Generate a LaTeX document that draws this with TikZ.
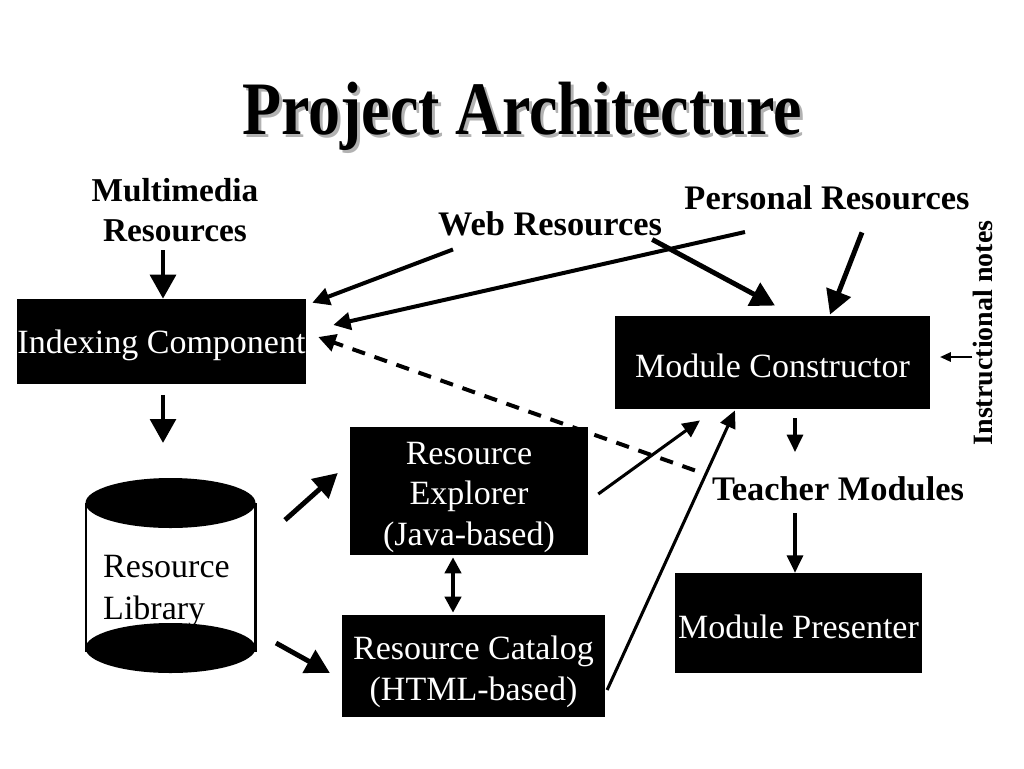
\documentclass[tikz,border=0pt]{standalone}
\usepackage{fontspec}
\setmainfont{Liberation Serif}
\usepackage{tikz}
\usetikzlibrary{positioning, arrows.meta}
\newcommand{\boxstrut}[1]{\rule{0pt}{#1}}
\tikzstyle{box} = [fill=black, text=white, inner sep=0pt, align=center, font=\fontsize{25.5}{30.5}\selectfont]
\tikzstyle{txt} = [inner sep=0pt, font=\fontsize{25.5}{31}\selectfont]
\tikzstyle{lbl} = [inner sep=0pt, align=center, font=\bfseries\fontsize{25.8}{30.5}\selectfont]
\tikzstyle{bigarrow} = [line width=3.7pt, -{Triangle[length=18pt,width=19pt]}]
\tikzstyle{midarrow} = [line width=3pt, -{Triangle[length=13pt,width=13pt]}]
\tikzstyle{thinarrow} = [line width=2.3pt, -{Triangle[length=13pt,width=12pt]}]

\begin{document}
\begin{tikzpicture}[x=0.75pt, y=-0.75pt]
  \useasboundingbox (0,0) rectangle (1024,768);

  % Title with shadow
  \node[font=\bfseries\fontsize{48}{50}\selectfont, text=black!30] (titleshadow) at (525,119) {\scalebox{1}[1.18]{Project Architecture}};
  \node[font=\bfseries\fontsize{48}{50}\selectfont] (title) at (522,116) {\scalebox{1}[1.18]{Project Architecture}};

  % Sources
  \node[lbl, font=\bfseries\fontsize{25}{30.5}\selectfont] (mm) at (175,210) {Multimedia\\Resources};
  \node[lbl] (web) at (550,224) {Web Resources};
  \node[lbl] (pers) at (827,198) {Personal Resources};
  \node[lbl, rotate=90, font=\bfseries\fontsize{21}{24}\selectfont] (notes) at (983,333) {Instructional notes};

  % Components
  \node[box, minimum width=216.75pt, minimum height=63.75pt] (idx) at (161.5,341.5) {\boxstrut{23pt}Indexing Component};
  \node[box, minimum width=236pt, minimum height=70pt] (mc) at (772.5,362.5) {\boxstrut{23pt}Module Constructor};
  \node[box, minimum width=178.5pt, minimum height=96pt] (rexp) at (469,491) {\boxstrut{26pt}Resource\\Explorer\\(Java-based)};
  \node[box, minimum width=197pt, minimum height=76.5pt] (rcat) at (473.5,666) {\boxstrut{26.5pt}Resource Catalog\\(HTML-based)};
  \node[box, minimum width=185pt, minimum height=75pt] (mp) at (798.5,623) {\boxstrut{23pt}Module Presenter};
  \node[lbl] (teach) at (838,489) {Teacher Modules};

  % Resource library cylinder
  \fill (170.5,503) ellipse [x radius=63.75pt, y radius=18.75pt];
  \fill (170.5,648) ellipse [x radius=63.75pt, y radius=18.75pt];
  \draw[line width=2pt] (86,503) -- (86,652);
  \draw[line width=2pt] (255.5,503) -- (255.5,652);
  \node[txt, align=left] (lib) at (166.5,591) {Resource\\Library};

  % Indexing side
  \coordinate (mmfoot) at (163,250);
  \draw[bigarrow] (mmfoot) -- (mmfoot |- idx.north);
  \coordinate (cyltop) at (163,443);
  \draw[bigarrow, shorten <=8pt] (cyltop |- idx.south) -- (cyltop);
  \draw[midarrow] ([shift={(-97,13)}]web.south) -- ([shift={(6,4)}]idx.north east);
  \draw[midarrow] ([shift={(-82,34)}]pers.center) -- ([shift={(27,-16.5)}]idx.east);
  \draw[midarrow, dash pattern=on 10pt off 7.5pt] ([shift={(80,61)}]mc.south west) -- ([shift={(12,-4.5)}]idx.east);

  % Library to explorer and catalog
  \draw[bigarrow] ([shift={(55,-71)}]lib.east) -- ([shift={(-12,-18)}]rexp.west);
  \draw[bigarrow] ([shift={(46,52)}]lib.east) -- ([shift={(-12,7)}]rcat.west);
  \draw[line width=3pt, {Triangle[length=12pt,width=12pt]}-{Triangle[length=12pt,width=12pt]}] ([shift={(-16,2)}]rexp.south) -- ([shift={(-20.5,-2)}]rcat.north);

  % Into the module constructor
  \draw[bigarrow] ([shift={(-10,3)}]web.south east) -- ([shift={(2.5,-10)}]mc.north);
  \draw[bigarrow] ([shift={(35,22)}]pers.south) -- ([shift={(57.5,-1)}]mc.north);
  \draw[thinarrow] ([shift={(10,3)}]rexp.east) -- ([shift={(-72.5,11)}]mc.south);
  \draw[thinarrow] ([shift={(2,24)}]rcat.east) -- ([shift={(-37.5,1)}]mc.south);
  \draw[line width=1.2pt, -{Triangle[length=8pt,width=7pt]}] ([shift={(-11,24)}]notes.center) -- ([shift={(10,-5.5)}]mc.east);

  % Output side
  \draw[thinarrow] ([shift={(22.5,9)}]mc.south) -- ([shift={(-43,-37)}]teach.center);
  \draw[thinarrow] ([shift={(-43,24)}]teach.center) -- ([shift={(-3.5,0)}]mp.north);
\end{tikzpicture}
\end{document}
